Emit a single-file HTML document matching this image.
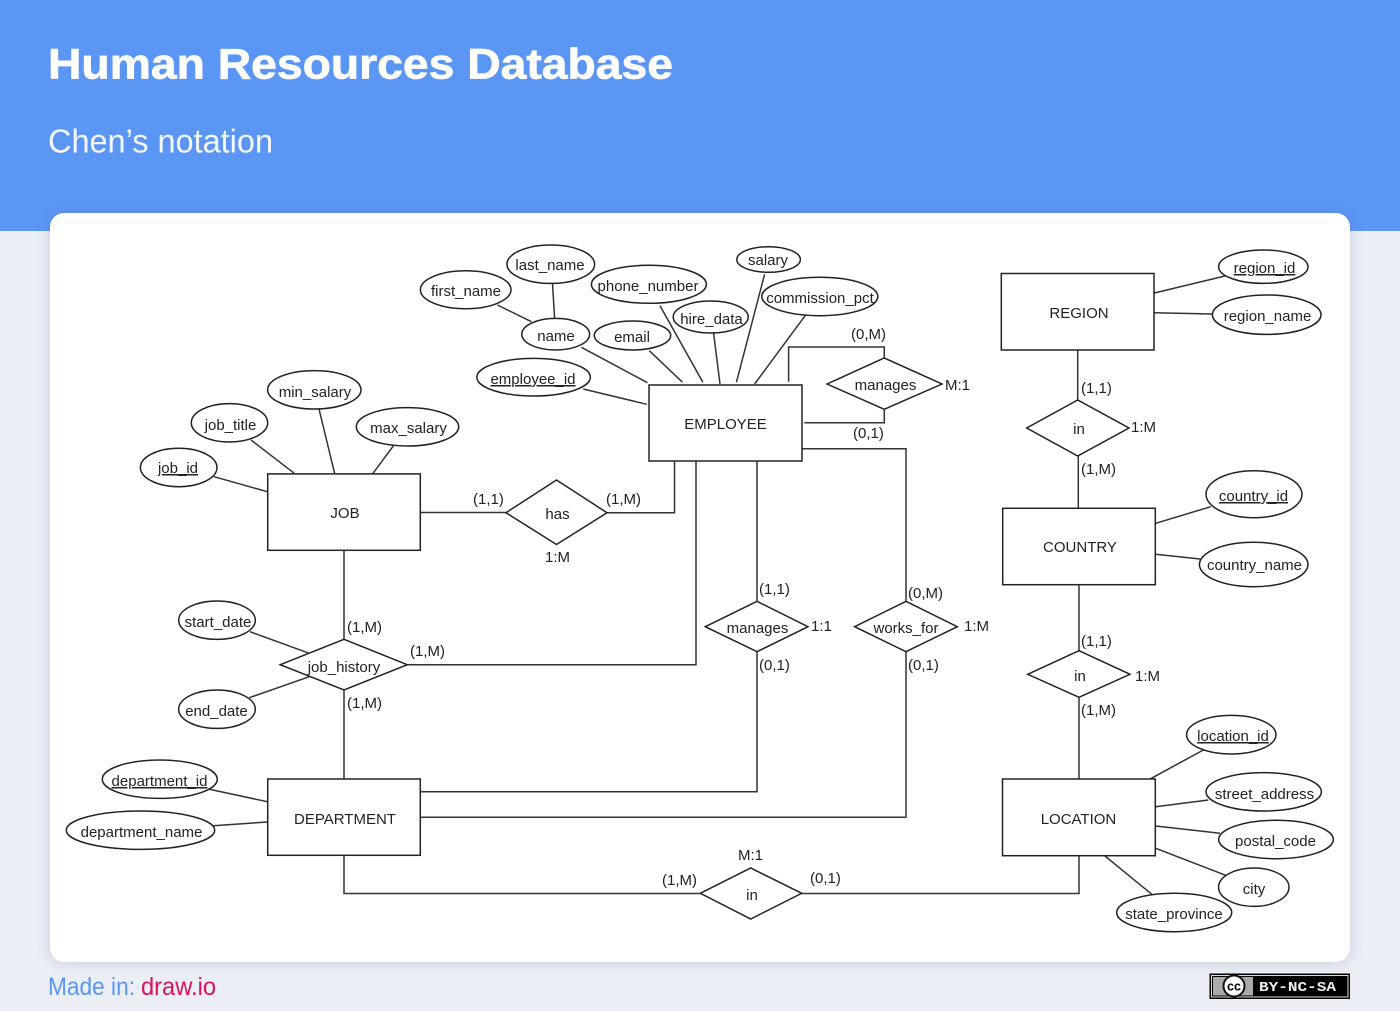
<!DOCTYPE html>
<html>
<head>
<meta charset="utf-8">
<style>
html,body{margin:0;padding:0;width:1400px;height:1011px;overflow:hidden;background:#ebeef5}
#hdr{position:absolute;left:0;top:0;width:1400px;height:231px;background:#5c96f5}
#card{position:absolute;left:50px;top:213px;width:1300px;height:749px;background:#fff;border-radius:14px;box-shadow:0 1px 14px rgba(60,80,130,.2)}
svg{position:absolute;left:0;top:0}
.d text{font-family:"Liberation Sans",sans-serif;font-size:15px;fill:#222}
.c{text-anchor:middle}
.u{text-decoration:underline}
.s ellipse,.s rect,.s polygon{fill:none;stroke:#222;stroke-width:1.5}
.s path{fill:none;stroke:#333;stroke-width:1.5}
</style>
</head>
<body>
<div id="hdr"></div>
<div id="card"></div>
<svg width="1400" height="1011" viewBox="0 0 1400 1011" xmlns="http://www.w3.org/2000/svg">
<text x="48" y="78.5" font-family="'Liberation Sans',sans-serif" font-weight="700" font-size="43" fill="#fff" stroke="#fff" stroke-width=".7" textLength="625" lengthAdjust="spacingAndGlyphs">Human Resources Database</text>
<text x="48" y="152.5" font-family="'Liberation Sans',sans-serif" font-size="33" fill="#f4f8ff" textLength="225" lengthAdjust="spacingAndGlyphs">Chen’s notation</text>
<text x="48" y="995" font-family="'Liberation Sans',sans-serif" font-size="25" fill="#5c96f5" textLength="87" lengthAdjust="spacingAndGlyphs">Made in:</text>
<text x="141" y="995" font-family="'Liberation Sans',sans-serif" font-size="25" fill="#d9145e" textLength="75" lengthAdjust="spacingAndGlyphs">draw.io</text>

<g class="s">
<path d="M497.5 305L531.4 321.7M552.5 283.3L554.6 318.3M581.4 347.3L647.5 382.7M649.3 350.7L682.5 382.3M660 305.7L702.9 382.3M713.6 333.3L720 384M764.6 274.3L736.4 382.3M805.4 315.3L754.6 384M583.2 389L646.8 404.3"/>
<path d="M788.6 381.7V347H884.3V358M804.3 422.7H884.3V409.3M802 448.7H906V601M906 651.7V817.3H420.3M757 461V601.3M757 651.7V791.7H420.3M674.5 461V512.7H607M696 461V664.7H407.3"/>
<path d="M420.3 512.5H506M344 550.3V639.3M344 690V779M344 855.5V893.5H700.3M801.7 893.5H1079V855.7"/>
<path d="M214 476.7L267.3 491.7M251 440L294.3 473.3M319 409L334.7 473.7M393.3 446L372.7 473.7M250 631.7L309.3 653.3M249.3 697.7L309.3 676.7M208.3 789L267.3 801.7M213.3 825.7L267.3 822"/>
<path d="M1154.3 293L1225 276M1154.3 312.7L1212.3 314M1155.7 523.3L1210.7 506.7M1155.7 554.3L1200 559M1077.7 350V400M1078.3 456V508.3M1079 584.7V650.7M1079 697.3V779"/>
<path d="M1150.7 778.7L1203.3 750M1155.7 806.7L1208.3 800M1155.7 826L1220 833.3M1155.7 848.3L1226.7 875.7M1105 856L1152.3 894.7"/>
<rect x="267.7" y="473.9" width="152.6" height="76.4"/>
<rect x="649" y="385" width="153" height="76"/>
<rect x="267.7" y="779" width="152.6" height="76.3"/>
<rect x="1001.3" y="273.5" width="152.7" height="76.5"/>
<rect x="1002.7" y="508.3" width="152.6" height="76.4"/>
<rect x="1002.5" y="779" width="152.8" height="76.7"/>
<polygon points="827,384 884.3,358 942,384 884.3,409.3"/>
<polygon points="506,512.7 556.5,480 607,512.7 556.5,544.5"/>
<polygon points="280.3,664.7 344,639.3 407.3,664.7 344,690"/>
<polygon points="705.3,626.7 757,601.3 808,626.7 757,651.7"/>
<polygon points="854.7,626.7 906,601.3 957.3,626.7 906,651.7"/>
<polygon points="1026.7,428 1077.7,400 1129,428 1077.7,456"/>
<polygon points="1027.7,674.3 1079,650.7 1130,674.3 1079,697.3"/>
<polygon points="700.3,893.3 750.7,868 801.7,893.3 750.7,919"/>
<ellipse cx="465.7" cy="289.7" rx="45.3" ry="19"/>
<ellipse cx="550.8" cy="264.2" rx="43.8" ry="19.2"/>
<ellipse cx="555.7" cy="334.2" rx="33.9" ry="15.8"/>
<ellipse cx="632.5" cy="335.5" rx="38.2" ry="14.5"/>
<ellipse cx="648.9" cy="284.3" rx="57.5" ry="19"/>
<ellipse cx="710.7" cy="317" rx="37.5" ry="16"/>
<ellipse cx="768.6" cy="259.5" rx="31.8" ry="12.8"/>
<ellipse cx="819.8" cy="296.5" rx="58" ry="19.2"/>
<ellipse cx="533.6" cy="377.2" rx="56.8" ry="18.8"/>
<ellipse cx="178.7" cy="467.5" rx="38.3" ry="19.2"/>
<ellipse cx="229.5" cy="422.8" rx="38.2" ry="19.2"/>
<ellipse cx="314.3" cy="389.8" rx="46.7" ry="19.2"/>
<ellipse cx="407.5" cy="426.8" rx="51.2" ry="19.2"/>
<ellipse cx="217" cy="620.2" rx="38.3" ry="19.2"/>
<ellipse cx="217" cy="709.2" rx="38.3" ry="19.2"/>
<ellipse cx="159.8" cy="779.2" rx="57.5" ry="19.2"/>
<ellipse cx="140.5" cy="830.2" rx="74.2" ry="19.2"/>
<ellipse cx="1263.3" cy="266.7" rx="44.7" ry="16.7"/>
<ellipse cx="1266.7" cy="314.7" rx="54.3" ry="19.7"/>
<ellipse cx="1254" cy="494.2" rx="48" ry="23.5"/>
<ellipse cx="1253.7" cy="564.5" rx="54.3" ry="22.2"/>
<ellipse cx="1231.3" cy="734.7" rx="44.7" ry="19.3"/>
<ellipse cx="1263.7" cy="791.8" rx="57.7" ry="19.2"/>
<ellipse cx="1276" cy="839.5" rx="57.3" ry="19.2"/>
<ellipse cx="1253.8" cy="887.2" rx="35.2" ry="19.2"/>
<ellipse cx="1174.2" cy="912.5" rx="57.5" ry="19.2"/>
</g>

<g class="d">
<g class="c">
<text x="466" y="296">first_name</text>
<text x="550" y="270">last_name</text>
<text x="556" y="341">name</text>
<text x="648" y="291">phone_number</text>
<text x="632" y="342">email</text>
<text x="711.5" y="324">hire_data</text>
<text x="768" y="265">salary</text>
<text x="820" y="303">commission_pct</text>
<text x="533" y="384" class="u">employee_id</text>
<text x="178" y="473" class="u">job_id</text>
<text x="230.5" y="430">job_title</text>
<text x="315" y="397">min_salary</text>
<text x="408.5" y="433">max_salary</text>
<text x="218" y="627">start_date</text>
<text x="216.5" y="716">end_date</text>
<text x="159.5" y="786" class="u">department_id</text>
<text x="141.5" y="837">department_name</text>
<text x="345" y="518">JOB</text>
<text x="725.5" y="429">EMPLOYEE</text>
<text x="345" y="824">DEPARTMENT</text>
<text x="1079" y="318">REGION</text>
<text x="1080" y="552">COUNTRY</text>
<text x="1078.5" y="824">LOCATION</text>
<text x="557.5" y="519">has</text>
<text x="344" y="672">job_history</text>
<text x="885.5" y="390">manages</text>
<text x="757.5" y="633">manages</text>
<text x="906" y="633">works_for</text>
<text x="1079" y="434">in</text>
<text x="1080" y="681">in</text>
<text x="752" y="900">in</text>
<text x="1264.5" y="273" class="u">region_id</text>
<text x="1267.5" y="321">region_name</text>
<text x="1253.5" y="501" class="u">country_id</text>
<text x="1254.5" y="570">country_name</text>
<text x="1233" y="741" class="u">location_id</text>
<text x="1264.5" y="799">street_address</text>
<text x="1275.5" y="846">postal_code</text>
<text x="1254" y="894">city</text>
<text x="1174" y="919">state_province</text>
</g>
<text x="473" y="504">(1,1)</text>
<text x="606" y="504">(1,M)</text>
<text x="545" y="562">1:M</text>
<text x="347" y="632">(1,M)</text>
<text x="410" y="656">(1,M)</text>
<text x="347" y="708">(1,M)</text>
<text x="851" y="339">(0,M)</text>
<text x="945" y="390">M:1</text>
<text x="853" y="438">(0,1)</text>
<text x="1081" y="393">(1,1)</text>
<text x="1131" y="432">1:M</text>
<text x="1081" y="474">(1,M)</text>
<text x="1081" y="646">(1,1)</text>
<text x="1135" y="681">1:M</text>
<text x="1081" y="715">(1,M)</text>
<text x="759" y="594">(1,1)</text>
<text x="811" y="631">1:1</text>
<text x="759" y="670">(0,1)</text>
<text x="908" y="598">(0,M)</text>
<text x="964" y="631">1:M</text>
<text x="908" y="670">(0,1)</text>
<text x="738" y="860">M:1</text>
<text x="662" y="885">(1,M)</text>
<text x="810" y="883">(0,1)</text>
</g>

<rect x="1209.5" y="973.5" width="140.5" height="25.5" fill="#000"/>
<rect x="1211.5" y="975.5" width="136.5" height="21.5" fill="none" stroke="#ddd" stroke-width="1"/>
<rect x="1213" y="977" width="40" height="18.5" fill="#aaa"/>
<circle cx="1234" cy="986" r="10.5" fill="#fff" stroke="#111" stroke-width="2"/>
<text x="1234" y="990.5" text-anchor="middle" font-family="'Liberation Sans',sans-serif" font-weight="700" font-size="12.5" fill="#000">cc</text>
<text x="1259" y="991" font-family="'Liberation Mono',monospace" font-weight="700" font-size="14" fill="#eee" textLength="77" lengthAdjust="spacingAndGlyphs">BY-NC-SA</text>
</svg>
</body>
</html>
